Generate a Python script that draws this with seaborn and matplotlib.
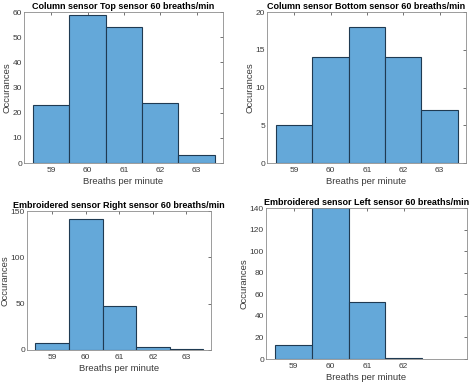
import matplotlib
matplotlib.use("Agg")
import matplotlib.pyplot as plt
import seaborn as sns

bpm = [59, 60, 61, 62, 63]
top_counts = [23, 59, 54, 24, 3]
bottom_counts = [5, 14, 18, 14, 7]
right_counts = [8, 141, 48, 3, 1]
left_bpm = [59, 60, 61, 62]
left_counts = [13, 145, 53, 1]

titles = [
    "Column sensor Top sensor 60 breaths/min",
    "Column sensor Bottom sensor 60 breaths/min",
    "Embroidered sensor Right sensor 60 breaths/min",
    "Embroidered sensor Left sensor 60 breaths/min",
]

sns.set_style("white")
plt.rcParams["font.family"] = ["Liberation Sans", "DejaVu Sans"]

BAR = "#64a8d9"
EDGE = "#1f3a52"
GREY = "#3a3a3a"

fig = plt.figure(figsize=(4.74, 3.86), dpi=100)
rects = [
    [0.0506, 0.5777, 0.420, 0.391],
    [0.5633, 0.5777, 0.420, 0.391],
    [0.0570, 0.0933, 0.388, 0.360],
    [0.5612, 0.0699, 0.424, 0.391],
]
panels = [
    (bpm, top_counts, 60, 10, bpm),
    (bpm, bottom_counts, 20, 5, bpm),
    (bpm, right_counts, 150, 50, bpm),
    (left_bpm, left_counts, 140, 20, left_bpm),
]

for rect, title, (x, w, ymax, ystep, xt) in zip(rects, titles, panels):
    ax = fig.add_axes(rect)
    sns.histplot(x=x, weights=w, discrete=True, ax=ax, color=BAR,
                 alpha=1, edgecolor=EDGE, linewidth=0.8)
    ax.set_xlim(58.25, 63.73)
    ax.set_ylim(0, ymax)
    ax.set_yticks(range(0, ymax + 1, ystep))
    ax.set_xticks(xt)
    ax.tick_params(direction="in", length=2.5, width=0.5, labelsize=6,
                   colors=GREY, top=True, right=True)
    ax.tick_params(axis="x", pad=3)
    ax.tick_params(axis="y", pad=1.5)
    for s in ax.spines.values():
        s.set_linewidth(0.6)
        s.set_color("#8c8c8c")
    ax.set_xlabel("Breaths per minute", fontsize=6.8, color=GREY, labelpad=2)
    ax.set_ylabel("Occurances", fontsize=6.8, color=GREY, labelpad=1)
    ax.set_title(title, fontsize=6.5, fontweight="bold", color="black", pad=2.5)

fig.savefig("out.png", dpi=100)
